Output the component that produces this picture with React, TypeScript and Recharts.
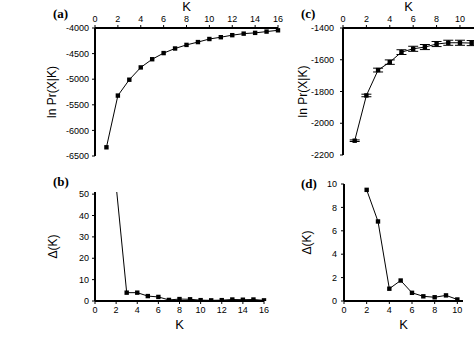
import { LineChart, Line, XAxis, YAxis, ErrorBar } from "recharts";

// panel (a): ln Pr(X|K), K = 1..16
const kA = [1, 2, 3, 4, 5, 6, 7, 8, 9, 10, 11, 12, 13, 14, 15, 16];
const lnPrA = [-6330, -5320, -5010, -4770, -4610, -4490, -4400, -4330, -4275, -4215, -4180, -4140, -4110, -4095, -4070, -4045];

// panel (b): delta K, K = 2..16 (first point runs off the top)
const kB = [2, 3, 4, 5, 6, 7, 8, 9, 10, 11, 12, 13, 14, 15, 16];
const deltaB = [54, 3.9, 3.9, 2.3, 1.9, 0.5, 0.9, 0.8, 0.4, 0.3, 0.4, 0.7, 0.6, 0.7, 0.3];

// panel (c): ln Pr(X|K) with sd, K = 1..11
const kC = [1, 2, 3, 4, 5, 6, 7, 8, 9, 10, 11];
const lnPrC = [-2110, -1825, -1665, -1615, -1552, -1531, -1520, -1501, -1493, -1493, -1495];
const errC = [5, 8, 12, 14, 15, 16, 16, 16, 16, 16, 16];

// panel (d): delta K, K = 2..10
const kD = [2, 3, 4, 5, 6, 7, 8, 9, 10];
const deltaD = [9.5, 6.8, 1.05, 1.75, 0.7, 0.4, 0.32, 0.48, 0.13];

const ticksA_X = [0, 2, 4, 6, 8, 10, 12, 14, 16];
const ticksA_Y = [-6500, -6000, -5500, -5000, -4500, -4000];
const ticksB_Y = [0, 10, 20, 30, 40, 50];
const ticksC_X = [0, 2, 4, 6, 8, 10];
const ticksC_Y = [-2200, -2000, -1800, -1600, -1400];
const ticksD_Y = [0, 2, 4, 6, 8, 10];

const dataA = kA.map((k, i) => ({ k, v: lnPrA[i] }));
const dataB = kB.map((k, i) => ({ k, v: deltaB[i] }));
const dataC = kC.map((k, i) => ({ k, v: lnPrC[i], err: errC[i] }));
const dataD = kD.map((k, i) => ({ k, v: deltaD[i] }));

const sans = "'Liberation Sans', Arial, sans-serif";
const tick = { fill: "#000", fontSize: 9, fontFamily: sans };
const axisLine = { stroke: "#000", strokeWidth: 2 };
const tickLine = { stroke: "#000", strokeWidth: 1 };

const renderSquare = (props: any) => {
  const { cx, cy, index } = props;
  if (cx == null || cy == null) return <g key={index} />;
  return <rect key={index} x={cx - 2.2} y={cy - 2.2} width={4.4} height={4.4} fill="#000" />;
};

const yLabel = (value: string, offset: number) => ({
  value,
  angle: -90,
  position: "insideLeft" as const,
  offset,
  fill: "#000",
  fontSize: 12,
  fontFamily: sans,
  style: { textAnchor: "middle" },
});

const topK = { value: "K", position: "top" as const, offset: -1.5, fill: "#000", fontSize: 13, fontFamily: sans };
const bottomK = { value: "K", position: "bottom" as const, offset: 0, fill: "#000", fontSize: 13, fontFamily: sans };

const panelLabel = (text: string, left: number, top: number) => (
  <div
    style={{
      position: "absolute",
      left,
      top,
      fontFamily: "'Liberation Serif', 'Times New Roman', serif",
      fontWeight: "bold",
      fontSize: 13,
      lineHeight: "13px",
      color: "#000",
    }}
  >
    {text}
  </div>
);

export default function App() {
  return (
    <div style={{ position: "absolute", left: 0, top: 0, width: 474, height: 352, background: "#fff", overflow: "hidden" }}>
      {/* (a) */}
      <div style={{ position: "absolute", left: 0, top: 0 }}>
        <LineChart width={290} height={170} data={dataA} margin={{ top: 9, right: 12, bottom: 14, left: 50 }}>
          <XAxis
            dataKey="k"
            type="number"
            orientation="top"
            domain={[0, 16]}
            ticks={ticksA_X}
            height={19}
            axisLine={axisLine}
            tickLine={tickLine}
            tickSize={3}
            tickMargin={3}
            tick={tick}
            label={topK}
          />
          <YAxis
            type="number"
            domain={[-6500, -4000]}
            ticks={ticksA_Y}
            width={45}
            axisLine={axisLine}
            tickLine={tickLine}
            tickSize={3}
            tickMargin={3}
            tick={tick}
            label={yLabel("ln Pr(X|K)", 2)}
          />
          <Line dataKey="v" stroke="#000" strokeWidth={1} dot={renderSquare} isAnimationActive={false} />
        </LineChart>
      </div>

      {/* (b) */}
      <div style={{ position: "absolute", left: 0, top: 170 }}>
        <LineChart width={290} height={182} data={dataB} margin={{ top: 22, right: 26, bottom: 32, left: 50 }}>
          <XAxis
            dataKey="k"
            type="number"
            domain={[0, 16]}
            ticks={ticksA_X}
            height={19}
            axisLine={axisLine}
            tickLine={tickLine}
            tickSize={3}
            tickMargin={3}
            tick={tick}
            label={bottomK}
          />
          <YAxis
            type="number"
            domain={[0, 51]}
            allowDataOverflow
            ticks={ticksB_Y}
            width={45}
            axisLine={axisLine}
            tickLine={tickLine}
            tickSize={3}
            tickMargin={3}
            tick={tick}
            label={yLabel("Δ(K)", 3)}
          />
          <Line dataKey="v" stroke="#000" strokeWidth={1} dot={renderSquare} isAnimationActive={false} />
        </LineChart>
      </div>

      {/* (c) */}
      <div style={{ position: "absolute", left: 290, top: 0 }}>
        <LineChart width={184} height={170} data={dataC} margin={{ top: 9, right: 0, bottom: 15, left: 8 }}>
          <XAxis
            dataKey="k"
            type="number"
            orientation="top"
            domain={[0, 11.2]}
            allowDataOverflow
            ticks={ticksC_X}
            height={19}
            axisLine={axisLine}
            tickLine={tickLine}
            tickSize={3}
            tickMargin={3}
            tick={tick}
            label={topK}
          />
          <YAxis
            type="number"
            domain={[-2200, -1400]}
            ticks={ticksC_Y}
            width={45}
            axisLine={axisLine}
            tickLine={tickLine}
            tickSize={3}
            tickMargin={6}
            tick={tick}
            label={yLabel("ln Pr(X|K)", 5)}
          />
          <Line dataKey="v" stroke="#000" strokeWidth={1} dot={renderSquare} isAnimationActive={false}>
            <ErrorBar dataKey="err" direction="y" width={5} stroke="#000" strokeWidth={1} isAnimationActive={false} />
          </Line>
        </LineChart>
      </div>

      {/* (d) */}
      <div style={{ position: "absolute", left: 290, top: 170 }}>
        <LineChart width={184} height={182} data={dataD} margin={{ top: 14, right: 11, bottom: 32, left: 9 }}>
          <XAxis
            dataKey="k"
            type="number"
            domain={[0, 10.5]}
            ticks={ticksC_X}
            height={19}
            axisLine={axisLine}
            tickLine={tickLine}
            tickSize={3}
            tickMargin={3}
            tick={tick}
            label={bottomK}
          />
          <YAxis
            type="number"
            domain={[0, 10]}
            ticks={ticksD_Y}
            width={45}
            axisLine={axisLine}
            tickLine={tickLine}
            tickSize={3}
            tickMargin={4}
            tick={tick}
            label={yLabel("Δ(K)", 8)}
          />
          <Line dataKey="v" stroke="#000" strokeWidth={1} dot={renderSquare} isAnimationActive={false} />
        </LineChart>
      </div>

      {panelLabel("(a)", 53, 7)}
      {panelLabel("(b)", 53, 175)}
      {panelLabel("(c)", 301, 7)}
      {panelLabel("(d)", 301, 177)}
    </div>
  );
}
